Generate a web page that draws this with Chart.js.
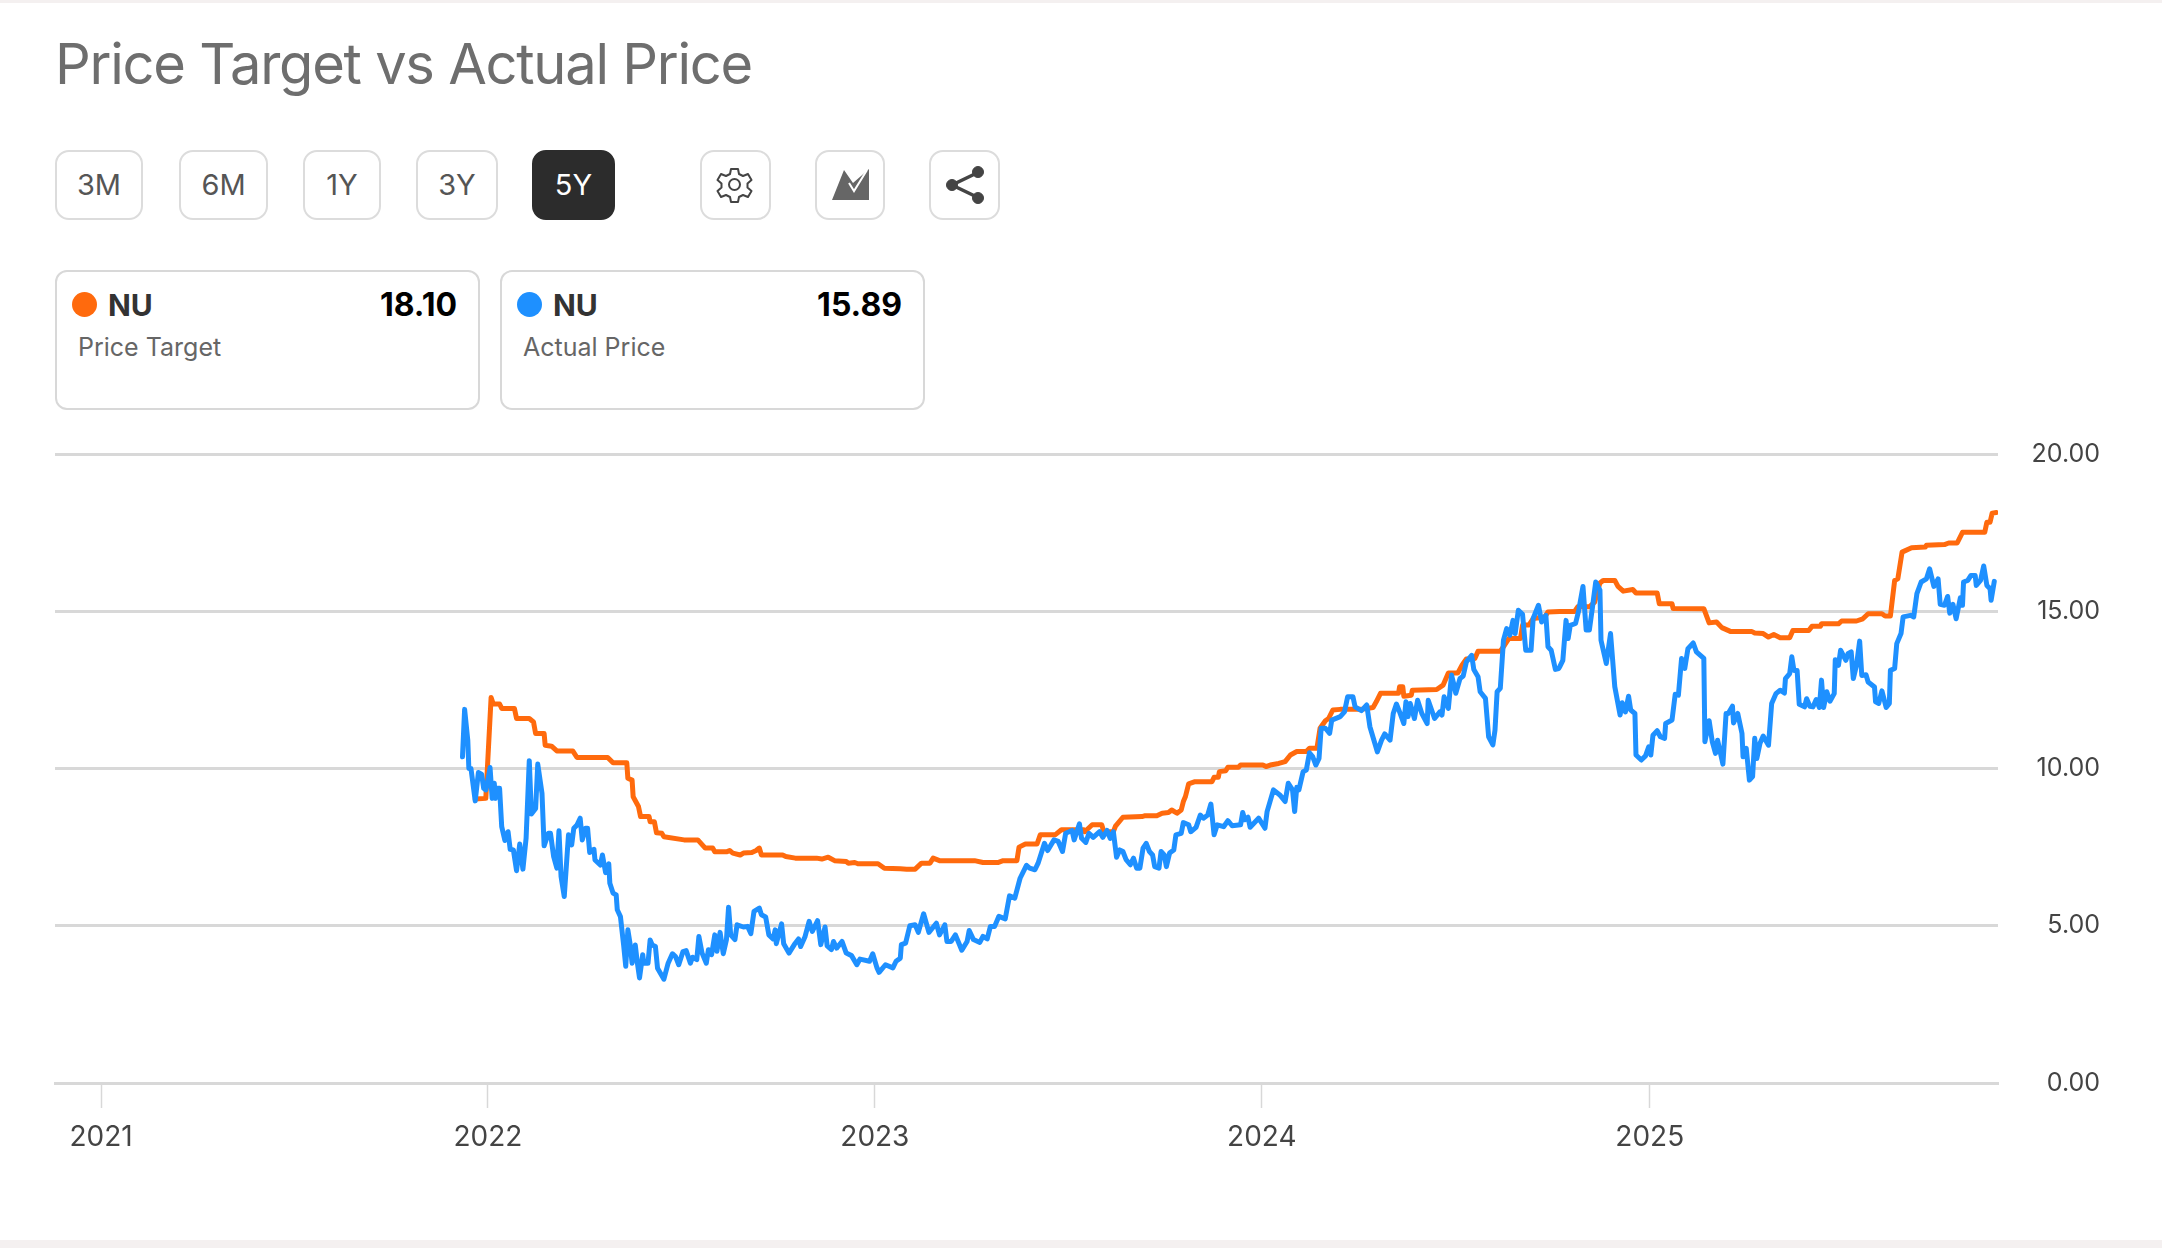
<!DOCTYPE html>
<html lang="en">
<head>
<meta charset="UTF-8">
<title>Price Target vs Actual Price</title>
<script src="https://cdn.jsdelivr.net/npm/chart.js"></script>
<style>
  html, body { margin: 0; padding: 0; background: #fff; }
  body { width: 2162px; height: 1248px; position: relative; overflow: hidden; font-family: Inter, sans-serif; }
  .band { position: absolute; left: 0; width: 2162px; background: #f4f0f0; }
  h1 { position: absolute; left: 55px; top: 30px; margin: 0; font-size: 56px; line-height: 68px; font-weight: 400; color: #6e6e6e; letter-spacing: -1.25px; white-space: nowrap; }
  .btn { position: absolute; top: 150px; height: 70px; box-sizing: border-box; border: 2px solid #dcdcdc; border-radius: 14px; background: #fff; color: #555; font-size: 29px; line-height: 66px; text-align: center; }
  .btn.on { background: #2c2c2c; border-color: #2c2c2c; color: #fff; }
  .btn svg { position: absolute; left: 0; top: 0; }
  .card { position: absolute; top: 270px; width: 425px; height: 140px; box-sizing: border-box; border: 2px solid #d8d8d8; border-radius: 12px; }
  .dot { position: absolute; left: 15px; top: 20px; width: 25px; height: 25px; border-radius: 50%; }
  .sym { position: absolute; left: 51px; top: 15px; font-size: 30px; line-height: 36px; font-weight: 700; color: #333; }
  .val { position: absolute; right: 21px; top: 15px; font-size: 32px; line-height: 36px; font-weight: 700; color: #000; }
  .sub { position: absolute; left: 21px; top: 59px; font-size: 25px; line-height: 32px; color: #666; }
  canvas { position: absolute; left: 0; top: 430px; }
</style>
</head>
<body>
<div class="band" style="top:0;height:3px"></div>
<div class="band" style="top:1240px;height:8px"></div>

<h1>Price Target vs Actual Price</h1>

<div class="btn" style="left:55px;width:88px">3M</div>
<div class="btn" style="left:179px;width:89px">6M</div>
<div class="btn" style="left:303px;width:78px">1Y</div>
<div class="btn" style="left:416px;width:82px">3Y</div>
<div class="btn on" style="left:532px;width:83px">5Y</div>

<div class="btn" style="left:700px;width:71px">
  <svg width="65" height="65" viewBox="0 0 65 65" fill="none" stroke="#444" stroke-width="2">
    <circle cx="32.5" cy="32.5" r="5.5"/>
    <path d="M29 17h7l1 5 4 2 5-2 3.500 6-4 3.500v4l4 3.500-3.500 6-5-2-4 2-1 5h-7l-1-5-4-2-5 2-3.500-6 4-3.500v-4l-4-3.500 3.500-6 5 2 4-2z" stroke-linejoin="round"/>
  </svg>
</div>
<div class="btn" style="left:815px;width:70px">
  <svg width="65" height="65" viewBox="0 0 65 65">
    <path d="M15 48l12-30 9 13 16-14v31z" fill="#666"/>
    <path d="M32 31l5 8 13-21" fill="none" stroke="#fff" stroke-width="2"/>
  </svg>
</div>
<div class="btn" style="left:929px;width:71px">
  <svg width="65" height="65" viewBox="0 0 65 65" fill="#444" stroke="#444">
    <path d="M48 20L21 33l27 13" fill="none" stroke-width="3.500"/>
    <circle cx="47" cy="20" r="5.500"/><circle cx="21" cy="33" r="5.500"/><circle cx="47" cy="46" r="5.500"/>
  </svg>
</div>

<div class="card" style="left:55px">
  <span class="dot" style="background:#ff6a0d"></span>
  <span class="sym">NU</span><span class="val">18.10</span>
  <span class="sub">Price Target</span>
</div>
<div class="card" style="left:500px">
  <span class="dot" style="background:#1e90ff"></span>
  <span class="sym">NU</span><span class="val">15.89</span>
  <span class="sub">Actual Price</span>
</div>

<canvas id="priceChart" width="2162" height="770"></canvas>

<script>
// x values are days since 2021-01-01
const tickDays = [0, 365, 730, 1095, 1461];
const tickYears = ['2021', '2022', '2023', '2024', '2025'];

const targetDays = [353,363,368,370,376,378,390,392,404,408,410,418,419,425,430,445,449,478,483,496,497,501,502,507,509,517,518,522,524,529,531,
  550,563,570,577,579,590,593,596,603,606,614,618,621,623,643,646,655,675,680,686,692,703,705,711,714,733,739,
  754,760,768,774,782,785,791,824,832,846,851,864,866,872,883,886,900,906,927,928,935,944,946,955,957,
  964,982,985,996,1001,1007,1010,1015,1019,1021,1023,1026,1032,1048,1050,1054,1055,1061,1063,1073,1075,1096,1099,1103,1111,1117,1122,1128,1137,1140,1147,1150,1155,1158,1162,
  1169,1189,1200,1203,1207,1224,1225,1228,1229,1236,1237,1260,1266,1271,1280,1284,1288,1296,1299,1320,1324,1328,1339,1341,1347,1351,1362,1365,
  1376,1390,1393,1404,1409,1414,1417,1428,1431,1436,1445,1448,1468,1470,1482,1483,1512,1517,1524,1529,1537,1557,1560,1568,1573,1578,
  1584,1593,1596,1611,1614,1622,1623,1639,1642,1656,1662,1667,1680,1683,1688,1692,1695,1699,1708,1721,1722,1739,1743,1751,1756,1777,1779,1782,1784,1788];
const targetPrices = [9.03,9.05,12.26,12.05,12.05,11.91,11.91,11.59,11.59,11.48,11.11,11.11,10.74,10.71,10.56,10.56,10.35,10.35,10.18,10.18,9.69,9.63,9.10,8.79,8.47,8.47,8.31,8.31,7.96,7.94,7.83,
  7.73,7.73,7.47,7.47,7.35,7.35,7.39,7.31,7.25,7.31,7.33,7.39,7.47,7.25,7.25,7.20,7.15,7.15,7.12,7.18,7.07,7.04,6.99,7.01,6.97,6.97,6.83,
  6.81,6.80,6.80,6.99,6.99,7.15,7.07,7.07,7.01,7.01,7.07,7.07,7.50,7.60,7.60,7.89,7.89,8.05,8.05,7.99,8.21,8.21,7.99,7.99,8.17,
  8.45,8.47,8.50,8.50,8.58,8.60,8.68,8.58,8.68,8.95,9.11,9.51,9.58,9.58,9.72,9.72,9.90,9.93,10.04,10.04,10.11,10.11,10.06,10.11,10.16,10.22,10.43,10.54,10.54,10.64,10.64,11.28,11.52,11.59,11.86,
  11.88,11.88,11.94,12.12,12.39,12.39,12.60,12.60,12.30,12.33,12.49,12.51,12.65,13.04,13.04,13.29,13.48,13.50,13.73,13.73,13.92,14.13,14.13,14.56,14.56,14.77,14.82,14.98,
  14.99,14.99,15.14,15.14,15.29,15.90,15.98,15.98,15.79,15.64,15.69,15.58,15.58,15.24,15.24,15.09,15.08,14.63,14.66,14.48,14.36,14.36,14.31,14.29,14.18,14.26,
  14.16,14.16,14.39,14.39,14.52,14.52,14.60,14.60,14.69,14.69,14.76,14.92,14.92,14.85,14.85,15.98,16.03,16.88,17.02,17.04,17.10,17.12,17.17,17.17,17.51,17.51,17.83,17.83,18.12,18.14];

const actualDays = [341,343,346,347,349,353,356,359,361,363,365,367,369,371,372,374,376,378,381,384,386,389,392,395,398,401,404,406,410,412,416,418,422,424,427,430,432,434,437,440,441,444,446,449,452,454,457,459,461,465,466,471,473,476,479,480,483,486,487,490,493,495,497,499,501,504,506,508,511,512,516,518,520,523,525,531,535,539,542,545,
  549,552,556,558,562,564,567,571,573,576,579,581,584,587,590,592,594,598,600,606,610,613,616,621,623,627,630,634,636,637,642,644,649,654,658,660,664,668,671,676,679,683,685,689,691,694,699,703,708,713,716,725,728,732,734,740,747,750,
  754,755,759,763,768,771,776,781,788,791,796,798,802,806,812,817,819,823,829,832,836,839,843,847,853,857,862,867,873,876,881,884,890,893,899,903,907,910,916,918,923,925,929,932,936,942,945,949,952,955,958,
  961,964,967,971,974,977,980,983,986,989,992,994,998,1000,1003,1005,1008,1012,1014,1019,1021,1026,1028,1033,1037,1040,1044,1047,1050,1053,1059,1063,1067,1075,1077,1079,1082,1084,1092,1098,1100,1106,1112,1117,1120,1124,1126,1128,1130,1134,1137,1140,1143,1146,1149,1151,1155,1159,1161,
  1169,1173,1176,1181,1183,1189,1194,1197,1204,1208,1211,1216,1219,1222,1225,1229,1231,1233,1235,1239,1242,1246,1251,1252,1258,1263,1265,1267,1271,1274,1276,1278,1282,1285,1288,1293,1295,1299,1301,1306,1309,1313,1315,1317,1320,1323,1326,1329,1332,1334,1337,1341,1344,1349,1351,1356,1359,1363,1365,1368,1372,1375,
  1376,1379,1382,1384,1386,1391,1394,1398,1401,1404,1407,1410,1414,1415,1420,1424,1428,1433,1435,1438,1441,1443,1447,1448,1453,1457,1460,1462,1464,1468,1471,1475,1476,1482,1485,1488,1491,1494,1497,1502,1505,1512,1513,1517,1520,1523,1525,1530,1533,1535,1539,1540,1544,1548,1549,1552,1555,1558,1560,1562,1565,1568,1573,1576,1580,
  1584,1588,1589,1593,1595,1597,1600,1602,1607,1609,1612,1615,1618,1621,1623,1625,1628,1631,1635,1636,1639,1641,1646,1648,1651,1653,1656,1659,1661,1665,1667,1673,1674,1677,1680,1684,1687,1688,1692,1694,1698,1700,1707,1710,1713,1717,1722,1725,1729,1733,1735,1739,1742,1744,1747,1750,1754,1756,1757,1761,1764,1768,1769,1773,1776,1779,1782,1783,1786];
const actualPrices = [10.37,11.88,10.90,10.00,10.00,8.97,9.87,9.82,9.37,9.32,9.63,10.03,9.05,9.53,9.05,9.37,9.37,8.15,7.71,7.99,7.43,7.41,6.75,7.60,6.80,7.78,10.25,8.55,8.73,10.14,9.21,7.54,7.94,7.94,7.20,6.83,8.02,6.56,5.93,7.41,7.89,7.57,8.10,8.20,8.42,7.73,8.10,8.10,7.33,7.43,7.09,6.93,7.25,6.69,6.97,6.35,6.04,5.98,5.51,5.29,4.39,3.71,4.87,4.45,3.81,4.39,3.81,3.34,4.08,3.81,3.81,4.55,4.39,4.34,3.65,3.30,3.81,4.11,4.02,3.76,
  4.18,4.21,3.81,4.00,3.92,4.66,4.13,3.81,4.24,4.08,4.71,4.19,4.79,4.11,4.56,5.59,4.71,4.56,5.03,4.96,4.98,4.75,5.46,5.56,5.35,5.28,4.71,4.58,4.87,4.43,5.06,4.43,4.13,4.40,4.58,4.34,4.64,5.14,4.82,5.16,4.40,4.96,4.36,4.24,4.50,4.29,4.50,4.13,4.05,3.76,3.94,3.87,4.11,3.66,3.52,3.76,3.66,3.87,
  3.97,4.40,4.45,5.00,5.03,4.79,5.38,4.79,5.08,4.71,5.03,4.50,4.50,4.71,4.22,4.50,4.85,4.56,4.47,4.66,4.58,4.98,4.98,5.30,5.22,5.95,5.88,6.51,6.92,6.83,6.78,6.99,7.62,7.39,7.73,7.68,7.36,7.94,8.03,7.73,8.24,7.78,7.65,7.94,7.81,7.99,7.81,8.03,7.78,7.99,7.18,
  7.41,7.36,7.10,6.94,7.15,6.83,6.83,7.47,7.62,7.36,7.25,6.88,6.83,7.36,7.25,6.88,7.31,7.41,7.89,7.94,8.28,8.21,7.99,8.13,8.52,8.42,8.52,8.87,7.89,8.21,8.15,8.34,8.18,8.21,8.60,8.37,8.45,8.13,8.42,8.10,8.63,9.32,9.16,8.95,9.53,9.32,8.63,9.40,9.32,9.90,9.95,10.50,10.38,10.11,10.32,11.28,11.28,11.12,11.54,
  11.65,11.80,12.28,12.28,11.96,11.84,12.02,11.33,10.53,10.90,11.10,10.90,11.75,12.05,11.80,11.43,12.12,11.65,12.07,11.59,12.17,11.75,11.43,12.17,11.59,11.80,11.70,12.28,11.91,12.97,12.70,12.39,12.86,12.94,13.39,13.60,13.15,12.92,12.44,12.23,11.01,10.75,11.22,12.44,12.55,14.08,14.45,14.24,14.71,14.29,15.03,14.90,13.76,13.76,14.77,15.19,14.66,14.87,13.87,13.76,13.15,13.18,
  13.23,13.44,14.71,14.13,14.55,14.61,15.03,15.79,14.40,14.40,15.14,15.93,15.67,14.08,13.34,14.29,12.60,11.70,12.09,11.80,12.30,11.86,11.75,10.43,10.27,10.40,10.69,10.43,11.06,11.20,11.01,10.96,11.43,11.54,12.36,12.33,13.50,13.18,13.81,13.99,13.71,13.50,10.85,11.52,10.85,10.48,10.90,10.14,11.75,11.75,11.98,11.45,11.75,11.11,10.37,10.64,9.63,9.74,10.96,10.32,10.80,11.03,10.74,12.07,12.38,
  12.49,12.40,12.86,13.02,13.55,13.12,13.12,12.04,11.96,12.22,11.98,11.96,12.19,11.94,12.81,11.94,12.44,12.14,12.38,13.46,13.28,13.76,13.44,13.65,13.71,12.86,13.28,14.05,12.96,12.98,12.75,12.59,12.12,12.07,12.47,11.94,12.07,13.12,13.18,13.97,14.29,14.82,14.87,14.82,15.56,15.93,16.03,16.35,15.79,16.03,15.22,15.19,15.47,14.94,15.22,14.76,15.43,15.19,15.93,15.98,16.14,16.14,15.82,15.98,16.44,15.82,15.72,15.35,15.95];

const yTicks = [0, 5, 10, 15, 20];

const toPoints = (xs, ys) => xs.map((x, i) => ({ x: x, y: ys[i] }));

new Chart(document.getElementById('priceChart').getContext('2d'), {
  type: 'line',
  data: {
    datasets: [
      { label: 'Price Target', data: toPoints(targetDays, targetPrices), borderColor: '#ff6a0d', order: 1 },
      { label: 'Actual Price', data: toPoints(actualDays, actualPrices), borderColor: '#1e90ff', order: 0 }
    ]
  },
  options: {
    responsive: false,
    animation: false,
    parsing: false,
    layout: { padding: { left: 55, top: 24, right: 62, bottom: 0 } },
    elements: {
      point: { radius: 0 },
      line: { borderWidth: 5, tension: 0, borderJoinStyle: 'round', borderCapStyle: 'round' }
    },
    plugins: { legend: { display: false }, tooltip: { enabled: false } },
    scales: {
      x: {
        type: 'linear',
        min: -43.4,
        max: 1789.5,
        afterBuildTicks: axis => { axis.ticks = tickDays.map(v => ({ value: v })); },
        afterFit: axis => { axis.height = 117; },
        border: { display: true, color: '#d8d8d8', width: 3 },
        grid: { drawOnChartArea: false, drawTicks: true, tickLength: 25, tickWidth: 1.5, tickColor: '#d8d8d8' },
        ticks: {
          autoSkip: false,
          maxRotation: 0,
          padding: 13,
          color: '#444',
          font: { family: 'Inter', size: 28 },
          callback: (v, i) => tickYears[i]
        }
      },
      y: {
        position: 'right',
        min: 0,
        max: 20,
        afterBuildTicks: axis => { axis.ticks = yTicks.map(v => ({ value: v })); },
        afterFit: axis => { axis.width = 102; },
        border: { display: false },
        grid: { color: '#d8d8d8', lineWidth: 3, drawTicks: false },
        ticks: {
          crossAlign: 'far',
          padding: 0,
          color: '#444',
          font: { family: 'Inter', size: 25 },
          callback: v => v.toFixed(2)
        }
      }
    }
  }
});
</script>
</body>
</html>
